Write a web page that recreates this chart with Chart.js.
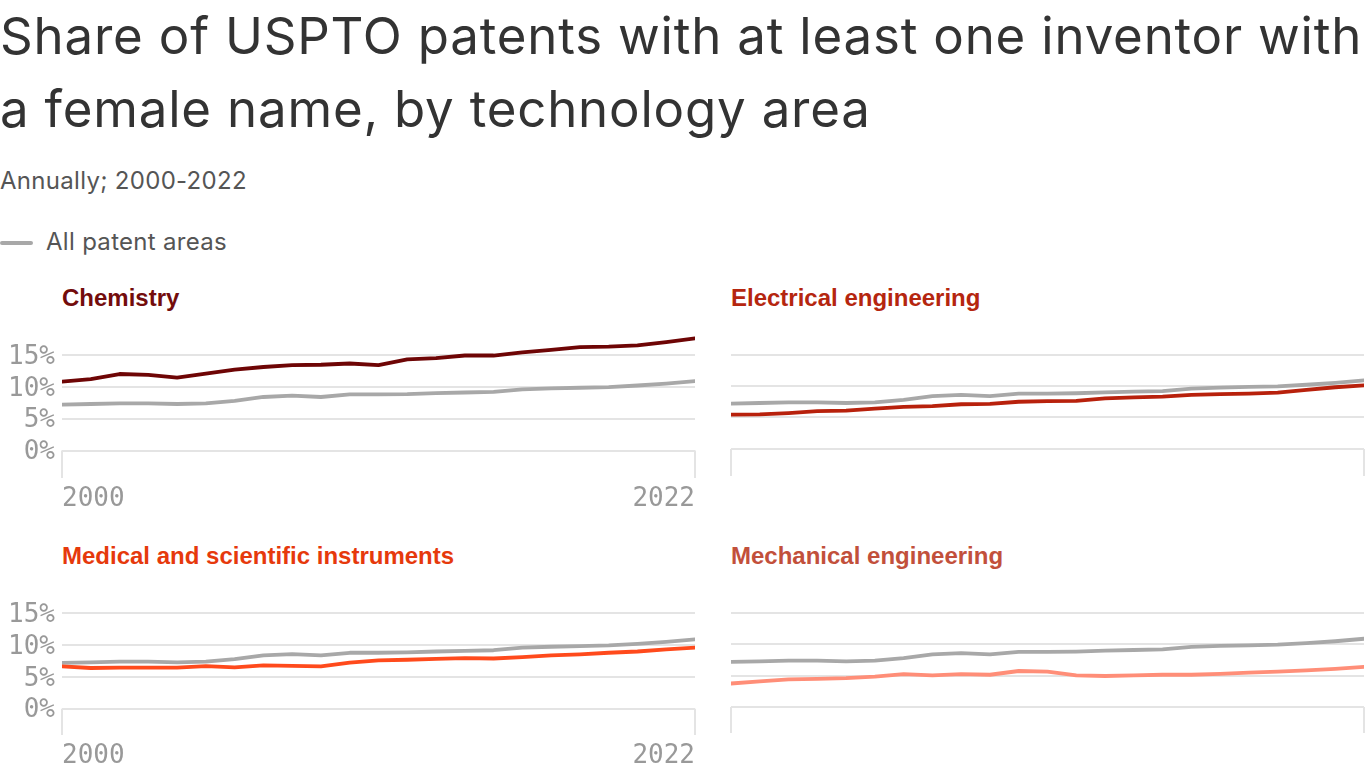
<!DOCTYPE html>
<html><head><meta charset="utf-8">
<script src="https://cdn.jsdelivr.net/npm/chart.js@4"></script>
<style>
html,body{margin:0;padding:0;background:#fff;width:1366px;height:768px;overflow:hidden;position:relative}
.t{position:absolute;white-space:nowrap;margin:0}
#title{left:0;top:-1px;font-family:Inter,"Noto Sans",sans-serif;font-size:51px;line-height:73px;color:#333;font-weight:400;letter-spacing:0.8px}
#sub{left:0;top:167px;font-family:Inter,"Noto Sans",sans-serif;font-size:24px;line-height:28px;color:#555;letter-spacing:0.3px}
#legLine{position:absolute;left:0;top:241px;width:33px;height:4px;background:#a8a8a8;border-radius:2px}
#legTxt{left:46px;top:228px;font-family:Inter,"Noto Sans",sans-serif;font-size:24px;line-height:28px;color:#555;letter-spacing:0.3px}
.pt{font-family:"Liberation Sans",Arial,sans-serif;font-weight:700;font-size:24px;line-height:28px}
canvas{position:absolute}
</style></head>
<body>
<div class="t" id="title">Share of USPTO patents with at least one inventor with<br>a female name, by technology area</div>
<div class="t" id="sub">Annually; 2000-2022</div>
<div id="legLine"></div>
<div class="t" id="legTxt">All patent areas</div>

<div class="t pt" style="left:62px;top:284px;color:#730c0c">Chemistry</div>
<div class="t pt" style="left:731px;top:284px;color:#b5260f">Electrical engineering</div>
<div class="t pt" style="left:62px;top:542px;color:#e6390c">Medical and scientific instruments</div>
<div class="t pt" style="left:731px;top:542px;color:#c2503b">Mechanical engineering</div>

<canvas id="c1" width="700" height="200" style="left:0;top:320px"></canvas>
<canvas id="c2" width="666" height="200" style="left:700px;top:320px"></canvas>
<canvas id="c3" width="700" height="200" style="left:0;top:577px"></canvas>
<canvas id="c4" width="666" height="200" style="left:700px;top:577px"></canvas>

<script>
const years = [2000,2001,2002,2003,2004,2005,2006,2007,2008,2009,2010,2011,2012,2013,2014,2015,2016,2017,2018,2019,2020,2021,2022];
const xTickYears = [2000, 2022];
const yTickValues = [0, 5, 10, 15];

const allAreas   = [7.2,7.3,7.4,7.4,7.3,7.4,7.8,8.4,8.6,8.4,8.8,8.8,8.85,9.0,9.1,9.2,9.6,9.75,9.85,9.95,10.2,10.5,10.9];
const chemistry  = [10.8,11.2,12.0,11.85,11.45,12.05,12.7,13.1,13.4,13.45,13.65,13.4,14.3,14.5,14.9,14.9,15.4,15.8,16.2,16.3,16.5,17.0,17.6];
const electrical = [5.45,5.5,5.7,6.0,6.1,6.4,6.7,6.8,7.1,7.15,7.5,7.6,7.65,8.05,8.2,8.3,8.6,8.7,8.8,8.95,9.4,9.8,10.1];
const medical    = [6.65,6.4,6.45,6.45,6.45,6.7,6.5,6.8,6.75,6.65,7.25,7.6,7.7,7.85,7.95,7.9,8.1,8.4,8.55,8.8,9.0,9.35,9.6];
const mechanical = [3.75,4.1,4.4,4.5,4.6,4.85,5.25,5.05,5.25,5.15,5.75,5.65,5.05,4.95,5.05,5.15,5.15,5.3,5.5,5.65,5.85,6.1,6.4];

const GRID = '#e4e4e4';
const GRAY = '#a8a8a8';
const MONO = '"DejaVu Sans Mono","Liberation Mono",monospace';

const tickLines = {
  id: 'tickLines',
  beforeDatasetsDraw(chart) {
    const {ctx, chartArea, scales} = chart;
    const y0 = scales.y.getPixelForValue(0);
    ctx.save();
    ctx.strokeStyle = GRID;
    ctx.lineWidth = 2;
    xTickYears.forEach(v => {
      const px = scales.x.getPixelForValue(v);
      ctx.beginPath();
      ctx.moveTo(px, y0);
      ctx.lineTo(px, chartArea.bottom);
      ctx.stroke();
    });
    ctx.restore();
  }
};

function pts(arr) { return arr.map((v, i) => ({x: years[i], y: v})); }
function noPad(s) { s.paddingTop = 0; s.paddingBottom = 0; s.paddingLeft = 0; s.paddingRight = 0; }

function makeChart(id, series, color, opts) {
  new Chart(document.getElementById(id), {
    type: 'line',
    data: {
      datasets: [
        {data: pts(series), borderColor: color, borderWidth: 3.8, pointRadius: 0, tension: 0, borderCapStyle: 'round', borderJoinStyle: 'round'},
        {data: pts(allAreas), borderColor: GRAY, borderWidth: 3.8, pointRadius: 0, tension: 0, borderCapStyle: 'round', borderJoinStyle: 'round'}
      ]
    },
    options: {
      responsive: false,
      animation: false,
      events: [],
      layout: {padding: {left: 0, right: opts.padRight, top: opts.padTop, bottom: opts.padBottom}},
      plugins: {legend: {display: false}, tooltip: {enabled: false}},
      scales: {
        x: {
          type: 'linear', min: 2000, max: 2022,
          afterBuildTicks: s => { s.ticks = xTickYears.map(v => ({value: v})); },
          afterFit: s => { noPad(s); },
          grid: {display: false, drawTicks: false},
          border: {display: false},
          ticks: {
            display: opts.showX, align: 'inner', maxRotation: 0, autoSkip: false, padding: 8,
            color: '#999', font: {family: MONO, size: 26, lineHeight: 1},
            callback: v => String(v)
          }
        },
        y: {
          min: opts.yMin, max: opts.yMax,
          afterBuildTicks: s => { s.ticks = yTickValues.map(v => ({value: v})); },
          afterFit: s => { s.width = opts.yWidth; noPad(s); },
          grid: {color: GRID, lineWidth: 2, drawTicks: false},
          border: {display: false},
          ticks: {
            display: opts.showY, padding: 7, color: '#999', labelOffset: 2,
            font: {family: MONO, size: 26, lineHeight: 1},
            callback: v => v + '%'
          }
        }
      }
    },
    plugins: [tickLines]
  });
}

makeChart('c1', chemistry, '#6e0505', {showX: true, showY: true, yWidth: 62, padRight: 5, padTop: 10, padBottom: 0, yMin: -4.3, yMax: 18.9});
makeChart('c2', electrical, '#b8210c', {showX: false, showY: false, yWidth: 31, padRight: 2, padTop: 10, padBottom: 44, yMin: -4.3, yMax: 18.9});
makeChart('c3', medical, '#ff4a1c', {showX: true, showY: true, yWidth: 62, padRight: 5, padTop: 11, padBottom: 0, yMin: -4.15, yMax: 19.0});
makeChart('c4', mechanical, '#ff8e78', {showX: false, showY: false, yWidth: 31, padRight: 2, padTop: 11, padBottom: 44, yMin: -4.15, yMax: 19.0});
</script>
</body></html>
